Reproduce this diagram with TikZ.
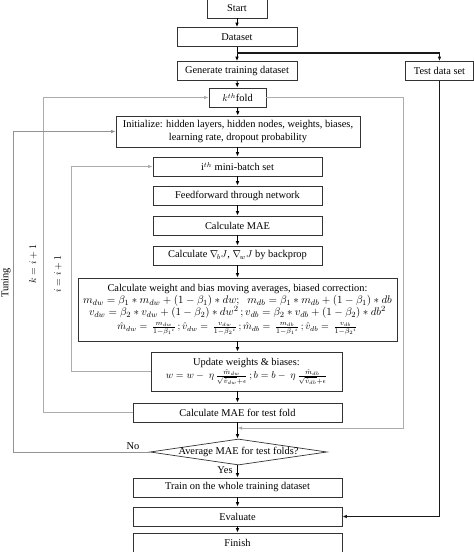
\documentclass[tikz,border=0pt]{standalone}
\usepackage{fontspec}
\setmainfont{Liberation Serif}
\usetikzlibrary{arrows.meta,shapes.geometric}
\newcommand\fsz{\fontsize{10.4}{12.2}\selectfont}
\newcommand\msz{\fontsize{11.2}{12.2}\selectfont}
\tikzset{
  box/.style={draw=black!80, line width=0.7pt, fill=white, inner sep=0pt, minimum height=19pt, font=\fsz},
  lab/.style={inner sep=0pt, font=\fsz},
  arr/.style={-{Latex[length=4.5pt,width=3.6pt]}, line width=0.9pt, draw=black},
  thk/.style={-{Latex[length=4.5pt,width=3.6pt]}, line width=1.3pt, draw=black!90},
  loopl/.style={-{Latex[length=4.5pt,width=3.6pt]}, line width=0.8pt, draw=gray!65},
  loopd/.style={-{Latex[length=4.5pt,width=3.6pt]}, line width=0.8pt, draw=gray!85},
}
\begin{document}
\begin{tikzpicture}[x=1pt,y=-1pt]
\useasboundingbox (0,0) rectangle (474,552);
% boxes
\node[box, minimum width=60pt, minimum height=20pt] (start) at (237,8) {Start};
\node[box, minimum width=120pt] (data) at (237,37) {Dataset};
\node[box, minimum width=120pt] (gen) at (237,71) {Generate training dataset};
\node[box, minimum width=68pt] (test) at (439.5,71) {Test data set};
\node[box, minimum width=57pt] (kf) at (237.5,97.5) {$k^{th}$fold};
\node[box, minimum width=244pt, minimum height=31pt, align=center] (init) at (238,131.5)
  {Initialize: hidden layers, hidden nodes, weights, biases,\\learning rate, dropout probability};
\node[box, minimum width=169pt] (ith) at (237.5,166.5) {i$^{th}$ mini-batch set};
\node[box, minimum width=169pt] (ff) at (237.5,195.5) {Feedforward through network};
\node[box, minimum width=169pt] (mae) at (237.5,225.5) {Calculate MAE};
\node[box, minimum width=169pt] (grad) at (237.5,255.5) {Calculate $\nabla_{\!b} J$, $\nabla_{\!w} J$ by backprop};
\node[box, minimum width=319pt, minimum height=63pt, align=center] (form) at (237.5,309.5)
  {Calculate weight and bias moving averages, biased correction:\\
   {\msz$m_{dw}=\beta_1*m_{dw}+(1-\beta_1)*dw;\;\; m_{db}=\beta_1*m_{db}+(1-\beta_1)*db$}\\
   {\msz$v_{dw}=\beta_2*v_{dw}+(1-\beta_2)*dw^2\,;v_{db}=\beta_2*v_{db}+(1-\beta_2)*db^2$}\\[2pt]
   $\hat m_{dw}=\,\frac{m_{dw}}{1-{\beta_1}^{i}}\,;\hat v_{dw}=\,\frac{v_{dw}}{1-{\beta_2}^{i}}\,;\hat m_{db}=\,\frac{m_{db}}{1-{\beta_1}^{i}}\,;\hat v_{db}=\,\frac{v_{db}}{1-{\beta_2}^{i}}$};
\node[box, minimum width=191pt, minimum height=39pt, align=center] (upd) at (246.5,371.5)
  {Update weights \& biases:\\[1pt]
   $w=w-\ \eta\,\frac{\hat m_{dw}}{\sqrt{\hat v_{dw}}+\epsilon}\,;b=b-\ \eta\,\frac{\hat m_{db}}{\sqrt{\hat v_{db}}+\epsilon}$};
\node[box, minimum width=209pt] (maet) at (237.5,412.5) {Calculate MAE for test fold};
\node[box, diamond, aspect=6.8, minimum width=177pt, minimum height=26pt] (dia) at (238.5,452)
  {\makebox[0pt]{Average MAE for test folds?}};
\node[box, minimum width=209pt] (train) at (237.5,487.5) {Train on the whole training dataset};
\node[box, minimum width=209pt] (eval) at (237.5,516.5) {Evaluate};
\node[box, minimum width=209pt, minimum height=20pt] (fin) at (237.5,543) {Finish};
% labels
\node[lab] (no) at (133,446) {No};
\node[lab] (yes) at (225,470) {Yes};
\node[lab, rotate=90] (tun) at (6,283) {Tuning};
\node[lab, rotate=90] (klab) at (33,264) {$k=i+1$};
\node[lab, rotate=90] (ilab) at (58,274) {$i=i+1$};
% coordinates
\coordinate (br) at (237,53);
\coordinate (jn) at (237.5,428);
\coordinate (kr) at (403,428);
\coordinate (kl) at (43,412.5);
\coordinate (il) at (71,371.5);
\coordinate (tl) at (13,452);
% main flow
\draw[arr] (start) -- (data);
\draw[arr] (data) -- (gen);
\draw[thk] (br) -| (test.north);
\draw[arr] (gen) -- (kf);
\draw[arr] (kf) -- (init);
\draw[arr] (init.south -| ith.north) -- (ith);
\draw[arr] (ith) -- (ff);
\draw[arr] (ff) -- (mae);
\draw[arr] (mae) -- (grad);
\draw[arr] (grad) -- (form);
\draw[arr] (form.south) -- (form.south |- upd.north);
\draw[arr] (form.south |- upd.south) -- (maet.north);
\draw[arr] (maet.south) -- (maet.south |- dia.north);
\draw[arr] (maet.south |- dia.south) -- (train.north);
\draw[arr] (train) -- (eval);
\draw[arr] (eval) -- (fin);
\draw[thk] (test.south) |- (eval.east);
% loops
\draw[loopl] (kf.east) -| (kr) -- (jn);
\draw[loopl] (maet.west) -- (kl) |- (kf.west);
\draw[loopl] (upd.west) -- (il) |- (ith.west);
\draw[loopd] (dia.west) -- (tl) |- (init.west);
\end{tikzpicture}
\end{document}
